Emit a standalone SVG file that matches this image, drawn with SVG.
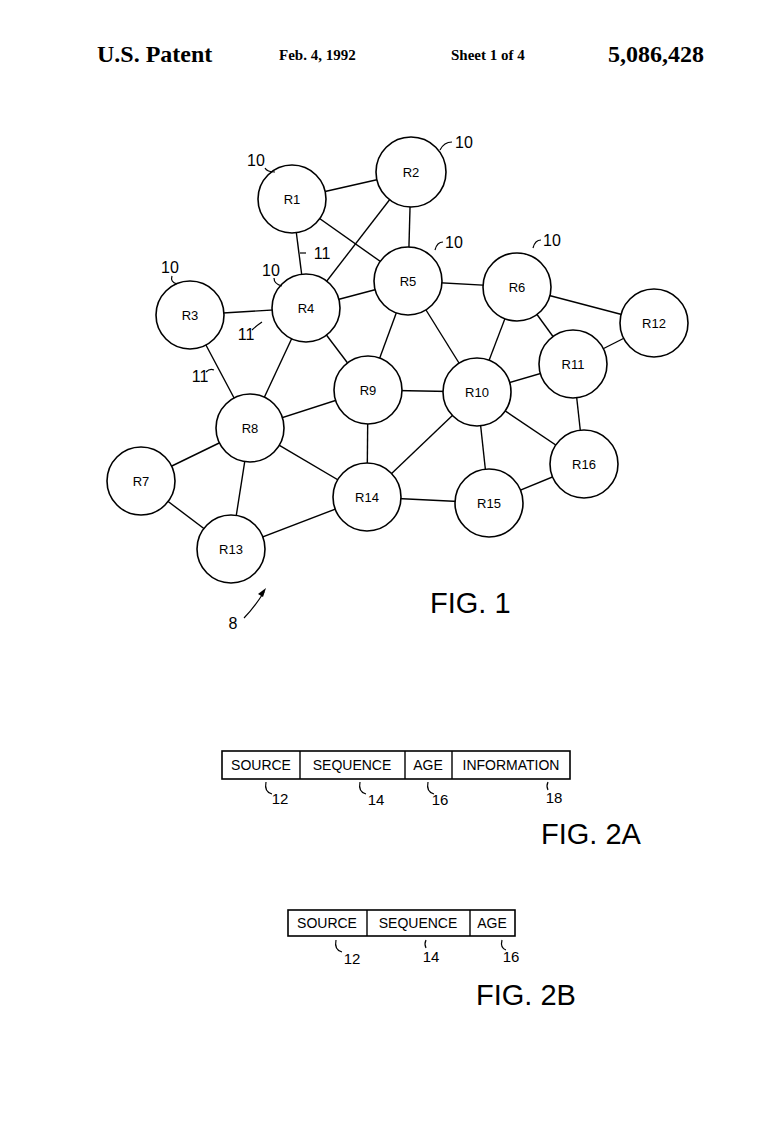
<svg xmlns="http://www.w3.org/2000/svg" width="768" height="1128" viewBox="0 0 768 1128">
<style>
.n circle{fill:#fff;stroke:#000;stroke-width:1.6}
.n text{font-size:13px}
.n text,.t{font-family:"Liberation Sans",Arial,sans-serif;text-anchor:middle}
.e line{stroke:#000;stroke-width:1.4}
.ld{fill:none;stroke:#000;stroke-width:1.2}
.hd{font-family:"Liberation Serif",serif;font-weight:bold}
.fig{font-family:"Liberation Sans",Arial,sans-serif;font-size:29px}
.bx{fill:#fff;stroke:#000;stroke-width:1.6}
</style>
<rect width="768" height="1128" fill="#fff"/>
<text class="hd" x="97" y="62" font-size="24">U.S. Patent</text>
<text class="hd" x="279" y="60" font-size="15">Feb. 4, 1992</text>
<text class="hd" x="451" y="60" font-size="15">Sheet 1 of 4</text>
<text class="hd" x="608" y="62" font-size="24">5,086,428</text>
<g class="e" id="connectors">
<line x1="292" y1="199" x2="411" y2="172"/><line x1="292" y1="199" x2="306" y2="308"/>
<line x1="292" y1="199" x2="408" y2="281"/><line x1="411" y1="172" x2="306" y2="308"/>
<line x1="411" y1="172" x2="408" y2="281"/><line x1="190" y1="315" x2="306" y2="308"/>
<line x1="190" y1="315" x2="250" y2="428"/><line x1="306" y1="308" x2="408" y2="281"/>
<line x1="306" y1="308" x2="250" y2="428"/><line x1="306" y1="308" x2="368" y2="390"/>
<line x1="408" y1="281" x2="517" y2="287"/><line x1="408" y1="281" x2="368" y2="390"/>
<line x1="408" y1="281" x2="477" y2="392"/><line x1="517" y1="287" x2="654" y2="323"/>
<line x1="517" y1="287" x2="477" y2="392"/><line x1="517" y1="287" x2="573" y2="364"/>
<line x1="654" y1="323" x2="573" y2="364"/><line x1="573" y1="364" x2="477" y2="392"/>
<line x1="573" y1="364" x2="584" y2="464"/><line x1="368" y1="390" x2="477" y2="392"/>
<line x1="368" y1="390" x2="250" y2="428"/><line x1="368" y1="390" x2="367" y2="497"/>
<line x1="477" y1="392" x2="367" y2="497"/><line x1="477" y1="392" x2="489" y2="503"/>
<line x1="477" y1="392" x2="584" y2="464"/><line x1="250" y1="428" x2="141" y2="481"/>
<line x1="250" y1="428" x2="231" y2="549"/><line x1="250" y1="428" x2="367" y2="497"/>
<line x1="141" y1="481" x2="231" y2="549"/><line x1="231" y1="549" x2="367" y2="497"/>
<line x1="367" y1="497" x2="489" y2="503"/><line x1="489" y1="503" x2="584" y2="464"/>
</g>
<g class="n" id="R1"><circle cx="292" cy="199" r="34"/><text x="292" y="204">R1</text></g>
<g class="n" id="R2"><circle cx="411" cy="172" r="35"/><text x="411" y="177">R2</text></g>
<g class="n" id="R3"><circle cx="190" cy="315" r="34"/><text x="190" y="320">R3</text></g>
<g class="n" id="R4"><circle cx="306" cy="308" r="34"/><text x="306" y="313">R4</text></g>
<g class="n" id="R5"><circle cx="408" cy="281" r="34"/><text x="408" y="286">R5</text></g>
<g class="n" id="R6"><circle cx="517" cy="287" r="34"/><text x="517" y="292">R6</text></g>
<g class="n" id="R12"><circle cx="654" cy="323" r="34"/><text x="654" y="328">R12</text></g>
<g class="n" id="R11"><circle cx="573" cy="364" r="34"/><text x="573" y="369">R11</text></g>
<g class="n" id="R9"><circle cx="368" cy="390" r="34"/><text x="368" y="395">R9</text></g>
<g class="n" id="R10"><circle cx="477" cy="392" r="34"/><text x="477" y="397">R10</text></g>
<g class="n" id="R8"><circle cx="250" cy="428" r="34"/><text x="250" y="433">R8</text></g>
<g class="n" id="R7"><circle cx="141" cy="481" r="34"/><text x="141" y="486">R7</text></g>
<g class="n" id="R16"><circle cx="584" cy="464" r="34"/><text x="584" y="469">R16</text></g>
<g class="n" id="R14"><circle cx="367" cy="497" r="34"/><text x="367" y="502">R14</text></g>
<g class="n" id="R15"><circle cx="489" cy="503" r="34"/><text x="489" y="508">R15</text></g>
<g class="n" id="R13"><circle cx="231" cy="549" r="34"/><text x="231" y="554">R13</text></g>
<g id="labels">
<text class="t" x="256" y="166" font-size="16">10</text><path class="ld" d="M265 168 q2 4 10 4"/>
<text class="t" x="464" y="148" font-size="16">10</text><path class="ld" d="M452 142 q-8 0 -12 8"/>
<text class="t" x="454" y="248" font-size="16">10</text><path class="ld" d="M443 242 q-6 0 -8 8"/>
<text class="t" x="552" y="246" font-size="16">10</text><path class="ld" d="M541 240 q-6 0 -8 8"/>
<text class="t" x="170" y="273" font-size="16">10</text><path class="ld" d="M172 276 q-2 6 5 8"/>
<text class="t" x="271" y="276" font-size="16">10</text><path class="ld" d="M274 278 q0 6 8 8"/>
<text class="t" x="322" y="259" font-size="16">11</text><path class="ld" d="M300 253 l6 0"/>
<text class="t" x="246" y="340" font-size="16">11</text><path class="ld" d="M252 330 q4 -4 10 -8"/>
<text class="t" x="200" y="382" font-size="16">11</text><path class="ld" d="M206 372 q4 -4 8 -2"/>
<text class="fig" x="430" y="613">FIG. 1</text>
<text class="t" x="233" y="629" font-size="16">8</text><path class="ld" d="M244 618 q10 -10 20 -26"/><path d="M266 588 l-8 6 l5 3 z"/>
</g>
<g id="fig2a">
<rect class="bx" x="222" y="751" width="348" height="28"/>
<line x1="300" y1="751" x2="300" y2="779" stroke="#000" stroke-width="1.4"/>
<line x1="405" y1="751" x2="405" y2="779" stroke="#000" stroke-width="1.4"/>
<line x1="452" y1="751" x2="452" y2="779" stroke="#000" stroke-width="1.4"/>
<text class="t" x="261" y="770" font-size="14">SOURCE</text><text class="t" x="352" y="770" font-size="14">SEQUENCE</text>
<text class="t" x="428" y="770" font-size="14">AGE</text><text class="t" x="511" y="770" font-size="14">INFORMATION</text>
<path class="ld" d="M266 782 q-2 10 6 12"/><text class="t" x="280" y="804" font-size="15">12</text>
<path class="ld" d="M360 782 q-2 10 6 12"/><text class="t" x="376" y="805" font-size="15">14</text>
<path class="ld" d="M428 782 q-2 10 6 12"/><text class="t" x="440" y="805" font-size="15">16</text>
<path class="ld" d="M548 782 q-2 4 0 8"/><text class="t" x="554" y="803" font-size="15">18</text>
<text class="fig" x="541" y="844">FIG. 2A</text>
</g>
<g id="fig2b">
<rect class="bx" x="288" y="910" width="227" height="26"/>
<line x1="367" y1="910" x2="367" y2="936" stroke="#000" stroke-width="1.4"/>
<line x1="470" y1="910" x2="470" y2="936" stroke="#000" stroke-width="1.4"/>
<text class="t" x="327" y="928" font-size="14">SOURCE</text><text class="t" x="418" y="928" font-size="14">SEQUENCE</text>
<text class="t" x="492" y="928" font-size="14">AGE</text>
<path class="ld" d="M336 940 q-2 10 6 12"/><text class="t" x="352" y="964" font-size="15">12</text>
<path class="ld" d="M426 940 q-2 4 0 8"/><text class="t" x="431" y="962" font-size="15">14</text>
<path class="ld" d="M502 940 q-2 8 4 10"/><text class="t" x="511" y="962" font-size="15">16</text>
<text class="fig" x="476" y="1005">FIG. 2B</text>
</g>
</svg>
